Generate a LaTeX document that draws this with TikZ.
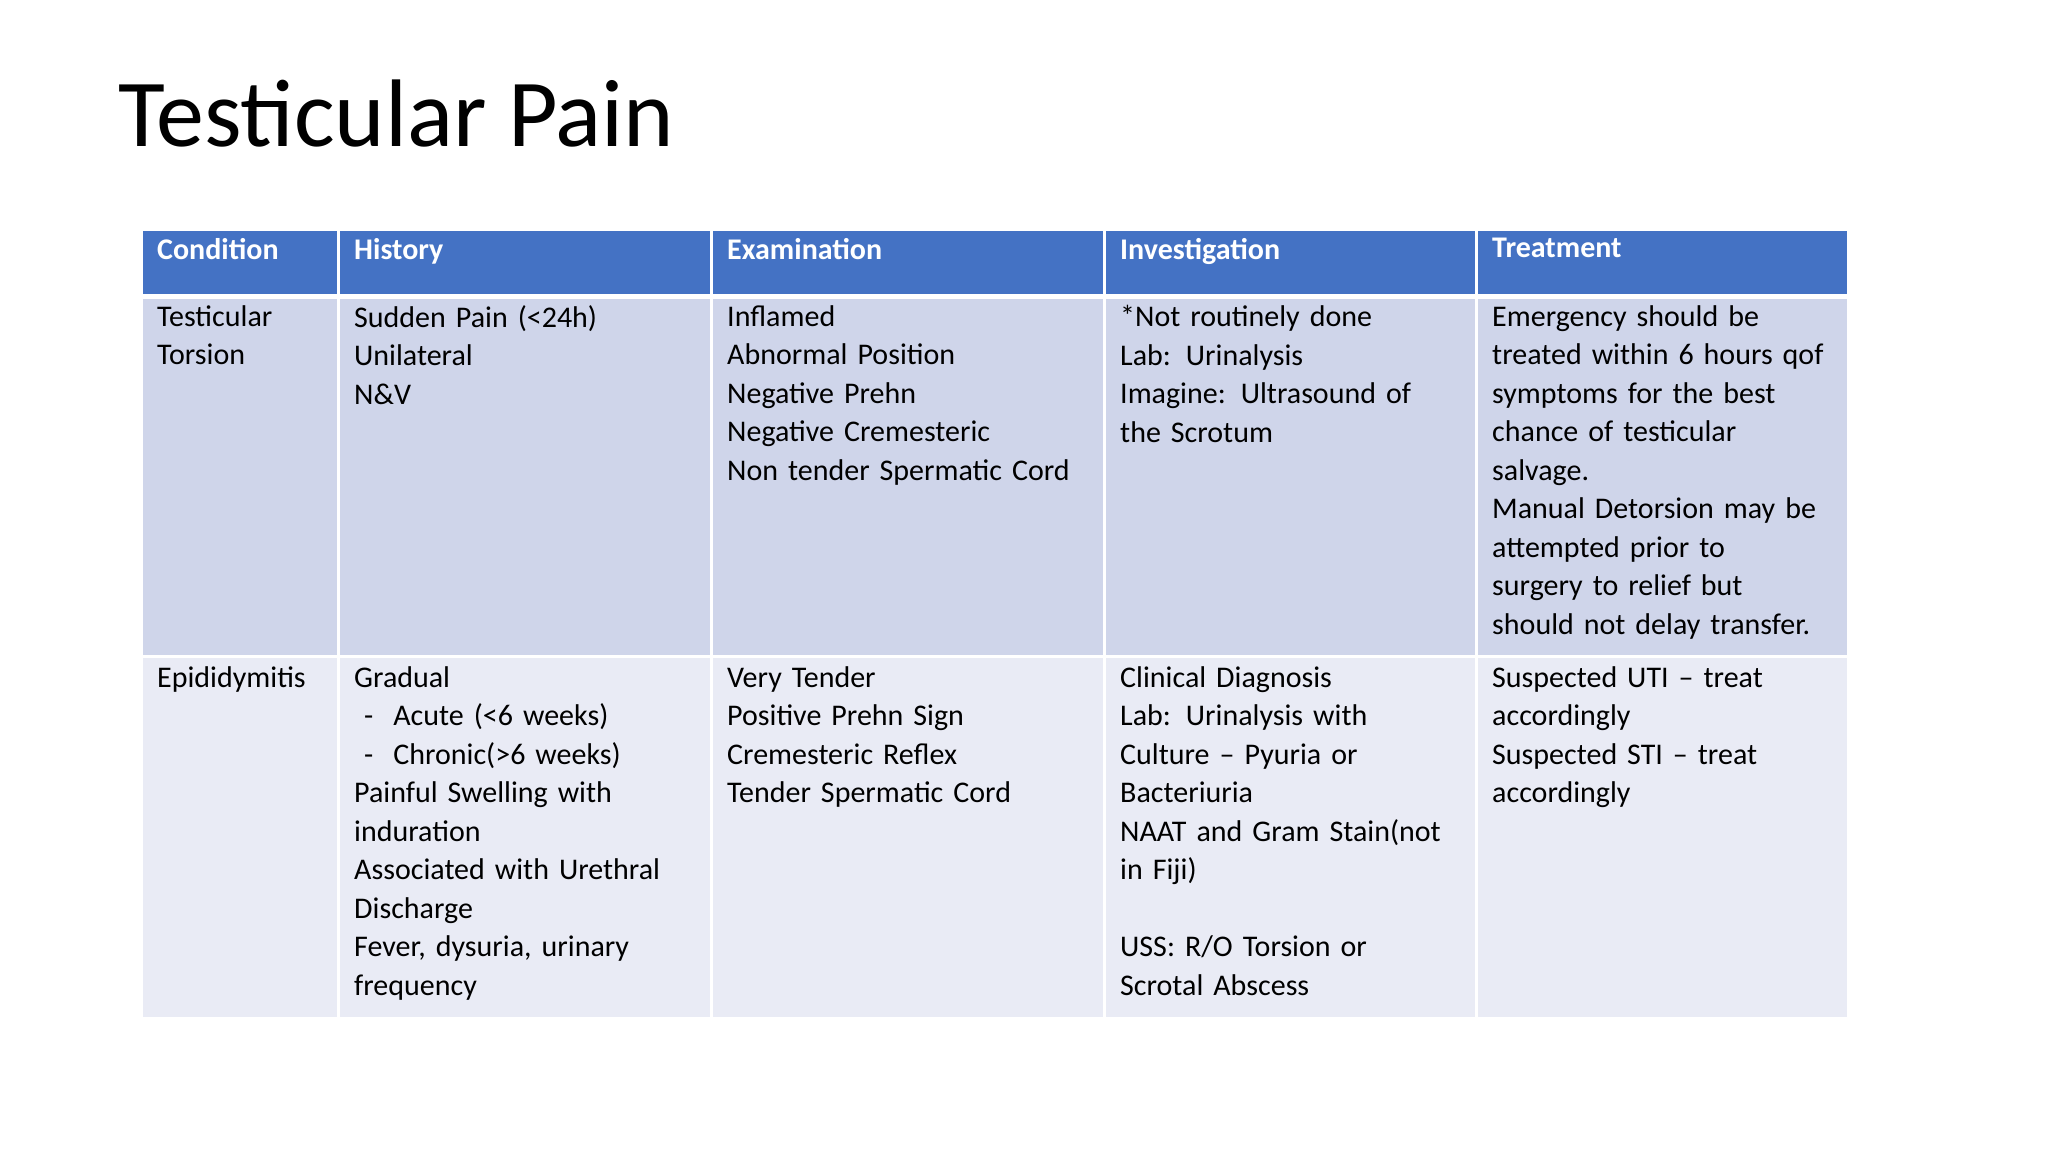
\documentclass[tikz,border=0pt]{standalone}
\usepackage{fontspec}
\setmainfont{Carlito}
\begin{document}
\begin{tikzpicture}[x=1pt,y=-1pt,
  cell/.style={anchor=north west,inner sep=0pt,align=left,text width=#1,font=\fontsize{30}{38.5}\selectfont},
  head/.style={anchor=north west,inner sep=0pt,text=white,font=\fontsize{30}{38.5}\selectfont\bfseries}]
\useasboundingbox (0,0) rectangle (2048,1152);
\fill[white] (0,0) rectangle (2048,1152);
\node[anchor=base west,inner sep=0pt,font=\fontsize{96}{110}\selectfont] (title) at (118,146) {Testicular Pain};
\def\xs{{141,338,711,1104,1476,1848}}
\foreach \i in {0,...,4}{
  \pgfmathsetmacro\xa{\xs[\i]}\pgfmathsetmacro\xb{\xs[\i+1]}
  \fill[fill={rgb,255:red,68;green,114;blue,196},draw=white,line width=3] (\xa,229) rectangle (\xb,295);
  \fill[fill={rgb,255:red,207;green,213;blue,234},draw=white,line width=3] (\xa,297) rectangle (\xb,656);
  \fill[fill={rgb,255:red,233;green,235;blue,245},draw=white,line width=3] (\xa,656) rectangle (\xb,1018);
}
\node[head] (h1) at (157,238) {Condition};
\node[head] (h2) at (354,238) {History};
\node[head] (h3) at (727,238) {Examination};
\node[head] (h4) at (1120,238) {Investigation};
\node[head] (h5) at (1492,238) {Treatment};
\node[cell=175] (a1) at (157,305) {Testicular\\Torsion};
\node[cell=355] (a2) at (354,305) {Sudden Pain (<24h)\\Unilateral\\N\&V};
\node[cell=380] (a3) at (727,305) {Inflamed\\Abnormal Position\\Negative Prehn\\Negative Cremesteric\\Non tender Spermatic Cord};
\node[cell=360] (a4) at (1120,305) {*Not routinely done\\Lab: Urinalysis\\Imagine: Ultrasound of\\the Scrotum};
\node[cell=360] (a5) at (1492,305) {Emergency should be\\treated within 6 hours qof\\symptoms for the best\\chance of testicular\\salvage.\\Manual Detorsion may be\\attempted prior to\\surgery to relief but\\should not delay transfer.};
\node[cell=175] (b1) at (157,666) {Epididymitis};
\node[cell=355] (b2) at (354,666) {Gradual\\\ -\ \ Acute (<6 weeks)\\\ -\ \ Chronic(>6 weeks)\\Painful Swelling with\\induration\\Associated with Urethral\\Discharge\\Fever, dysuria, urinary\\frequency};
\node[cell=380] (b3) at (727,666) {Very Tender\\Positive Prehn Sign\\Cremesteric Reflex\\Tender Spermatic Cord};
\node[cell=360] (b4) at (1120,666) {Clinical Diagnosis\\Lab: Urinalysis with\\Culture – Pyuria or\\Bacteriuria\\NAAT and Gram Stain(not\\in Fiji)\\[38.5pt]USS: R/O Torsion or\\Scrotal Abscess};
\node[cell=360] (b5) at (1492,666) {Suspected UTI – treat\\accordingly\\Suspected STI – treat\\accordingly};
\end{tikzpicture}
\end{document}
